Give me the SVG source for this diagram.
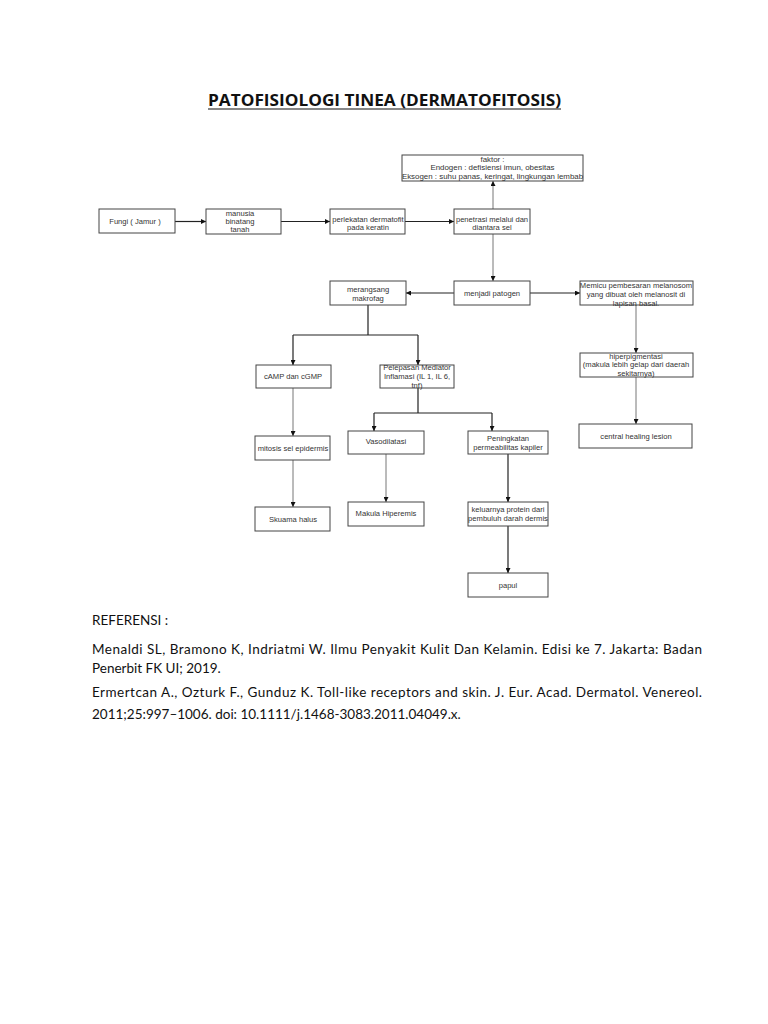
<svg xmlns="http://www.w3.org/2000/svg" width="768" height="1024" viewBox="0 0 768 1024">
<style>
.box{fill:#fff;stroke:#444;stroke-width:1}
.t{font-family:"Liberation Sans",Arial,sans-serif;font-size:7.6px;fill:#333;text-anchor:middle}
.f{font-size:7.9px}
.c{fill:none;stroke:#222;stroke-width:1.2}
.g{fill:none;stroke:#777;stroke-width:1}
.ref{font-family:Lato,"Open Sans",sans-serif;font-size:13.5px;fill:#111}
</style>
<defs>
<marker id="ah" viewBox="0 0 10 10" refX="10" refY="5" markerWidth="5" markerHeight="5" markerUnits="userSpaceOnUse" orient="auto">
<path d="M0,0 L10,5 L0,10 z" fill="#111"/>
</marker>
</defs>
<rect width="768" height="1024" fill="#fff"/>
<text x="384.5" y="106" font-family="'Open Sans',Lato,sans-serif" font-weight="bold" font-size="16.5" text-anchor="middle" fill="#111" textLength="353" lengthAdjust="spacingAndGlyphs">PATOFISIOLOGI TINEA (DERMATOFITOSIS)</text>
<line x1="208" y1="109" x2="561" y2="109" stroke="#111" stroke-width="1.2"/>

<g id="connectors">
<path class="c" d="M175,221.5 H206" marker-end="url(#ah)"/>
<path class="c" d="M281,221.5 H330" marker-end="url(#ah)"/>
<path class="c" d="M405,221.5 H454" marker-end="url(#ah)"/>
<path class="g" d="M493,209 V181" marker-end="url(#ah)"/>
<path class="g" d="M493,234 V281" marker-end="url(#ah)"/>
<path class="c" d="M454,293 H406" marker-end="url(#ah)"/>
<path class="c" d="M530,293 H580" marker-end="url(#ah)"/>
<path class="c" d="M368,305 V335 M293,335 H418"/>
<path class="c" d="M293,335 V365" marker-end="url(#ah)"/>
<path class="c" d="M418,335 V365" marker-end="url(#ah)"/>
<path class="g" d="M636,305 V353" marker-end="url(#ah)"/>
<path class="g" d="M636,377 V424" marker-end="url(#ah)"/>
<path class="c" d="M418,388 V413 M374,413 H492"/>
<path class="c" d="M374,413 V431" marker-end="url(#ah)"/>
<path class="c" d="M492,413 V431" marker-end="url(#ah)"/>
<path class="g" d="M293,388 V436" marker-end="url(#ah)"/>
<path class="g" d="M293,460 V507" marker-end="url(#ah)"/>
<path class="g" d="M386,454 V502" marker-end="url(#ah)"/>
<path class="c" d="M508,454 V502" marker-end="url(#ah)"/>
<path class="c" d="M508,526 V573" marker-end="url(#ah)"/>
</g>

<g id="faktor"><rect class="box" x="402" y="155" width="181" height="26"/>
<text class="t f" x="492.5" y="161.5">faktor :</text>
<text class="t f" x="492.5" y="169.5">Endogen : defisiensi imun, obesitas</text>
<text class="t f" x="492.5" y="178.5">Eksogen : suhu panas, keringat, lingkungan lembab</text></g>

<g id="fungi"><rect class="box" x="99" y="209" width="76" height="24"/>
<text class="t" x="135" y="223.5">Fungi ( Jamur )</text></g>

<g id="manusia"><rect class="box" x="206" y="209" width="75" height="25"/>
<text class="t" x="240" y="215.5">manusia</text>
<text class="t" x="240" y="223.5">binatang</text>
<text class="t" x="240" y="231.5">tanah</text></g>

<g id="perlekatan"><rect class="box" x="330" y="209" width="75" height="25"/>
<text class="t" x="368" y="221.5">perlekatan dermatofit</text>
<text class="t" x="368" y="229.5">pada keratin</text></g>

<g id="penetrasi"><rect class="box" x="454" y="209" width="76" height="25"/>
<text class="t" x="492" y="221.5">penetrasi melalui dan</text>
<text class="t" x="492" y="229.5">diantara sel</text></g>

<g id="merangsang"><rect class="box" x="330" y="281" width="76" height="24"/>
<text class="t" x="368" y="291.5">merangsang</text>
<text class="t" x="368" y="300.5">makrofag</text></g>

<g id="patogen"><rect class="box" x="454" y="281" width="76" height="24"/>
<text class="t" x="492" y="296">menjadi patogen</text></g>

<g id="memicu"><rect class="box" x="580" y="281" width="113" height="24"/>
<text class="t" x="636" y="287.5">Memicu pembesaran melanosom</text>
<text class="t" x="636" y="296.5">yang dibuat oleh melanosit di</text>
<text class="t" x="636" y="305.5">lapisan basal.</text></g>

<g id="camp"><rect class="box" x="256" y="365" width="75" height="23"/>
<text class="t" x="293" y="379">cAMP dan cGMP</text></g>

<g id="pelepasan"><rect class="box" x="380" y="365" width="74" height="23"/>
<text class="t" x="417" y="369.5">Pelepasan Mediator</text>
<text class="t" x="417" y="378.5">Inflamasi (IL 1, IL 6,</text>
<text class="t" x="417" y="387.5">tnf)</text></g>

<g id="hiperpigmentasi"><rect class="box" x="580" y="353" width="113" height="24"/>
<text class="t" x="636" y="358.5">hiperpigmentasi</text>
<text class="t" x="636" y="366.5">(makula lebih gelap dari daerah</text>
<text class="t" x="636" y="375.5">sekitarnya)</text></g>

<g id="central"><rect class="box" x="579" y="424" width="113" height="24"/>
<text class="t" x="636" y="438.5">central healing lesion</text></g>

<g id="vasodilatasi"><rect class="box" x="348" y="431" width="76" height="23"/>
<text class="t" x="386" y="444">Vasodilatasi</text></g>

<g id="peningkatan"><rect class="box" x="468" y="431" width="80" height="23"/>
<text class="t" x="508" y="440.5">Peningkatan</text>
<text class="t" x="508" y="449.5">permeabilitas kapiler</text></g>

<g id="mitosis"><rect class="box" x="255" y="436" width="75" height="24"/>
<text class="t" x="293" y="450.5">mitosis sel epidermis</text></g>

<g id="skuama"><rect class="box" x="255" y="507" width="75" height="24"/>
<text class="t" x="293" y="521.5">Skuama halus</text></g>

<g id="makula"><rect class="box" x="348" y="502" width="76" height="24"/>
<text class="t" x="386" y="515.5">Makula Hiperemis</text></g>

<g id="keluarnya"><rect class="box" x="468" y="502" width="80" height="24"/>
<text class="t" x="508" y="511.5">keluarnya protein dari</text>
<text class="t" x="508" y="520.5">pembuluh darah dermis</text></g>

<g id="papul"><rect class="box" x="468" y="573" width="80" height="24"/>
<text class="t" x="508" y="587.5">papul</text></g>

<g id="referensi">
<text class="ref" x="92" y="625">REFERENSI :</text>
<text class="ref" x="92" y="654" textLength="610" lengthAdjust="spacing">Menaldi SL, Bramono K, Indriatmi W. Ilmu Penyakit Kulit Dan Kelamin. Edisi ke 7. Jakarta: Badan</text>
<text class="ref" x="92" y="673">Penerbit FK UI; 2019.</text>
<text class="ref" x="92" y="697" textLength="610" lengthAdjust="spacing">Ermertcan A., Ozturk F., Gunduz K. Toll-like receptors and skin. J. Eur. Acad. Dermatol. Venereol.</text>
<text class="ref" x="92" y="719">2011;25:997–1006. doi: 10.1111/j.1468-3083.2011.04049.x.</text>
</g>
</svg>
